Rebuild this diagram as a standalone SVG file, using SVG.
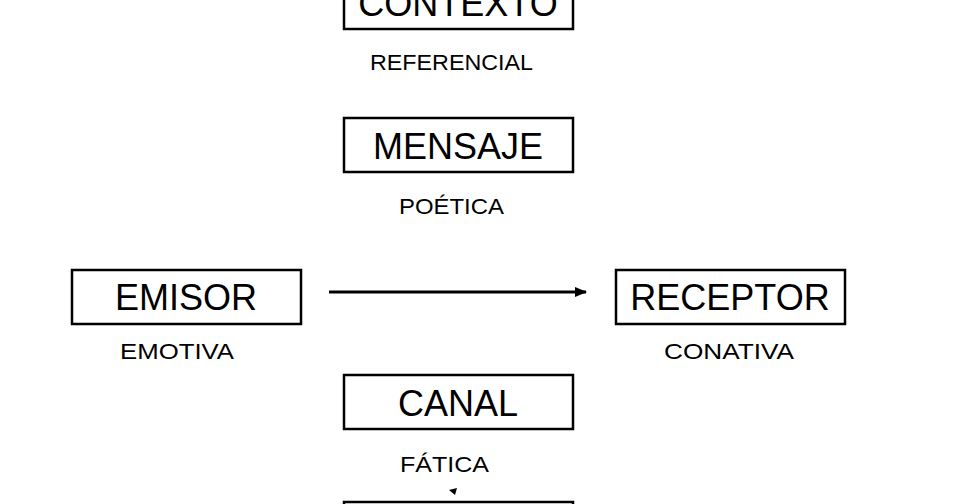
<svg xmlns="http://www.w3.org/2000/svg" width="960" height="504" viewBox="0 0 960 504">
<style>
.box{fill:#fff;stroke:#000;stroke-width:2.5}
.t{font-family:"Liberation Sans",Arial,sans-serif;font-size:36px;text-anchor:middle;fill:#000}
.l{font-family:"Liberation Sans",Arial,sans-serif;font-size:22px;fill:#000}
</style>
<defs><marker id="a" markerWidth="12" markerHeight="10" refX="11" refY="5" orient="auto" markerUnits="userSpaceOnUse"><path d="M0,0L12,5L0,10z" fill="#000"/></marker></defs>
<rect width="960" height="504" fill="#fff"/>
<g id="contexto"><rect class="box" x="344" y="-30" width="229" height="59"/><text class="t" x="458" y="16">CONTEXTO</text><text class="l" x="370" y="70" textLength="163" lengthAdjust="spacingAndGlyphs">REFERENCIAL</text></g>
<g id="mensaje"><rect class="box" x="344" y="118" width="229" height="54"/><text class="t" x="458" y="159">MENSAJE</text><text class="l" x="399" y="214" textLength="105" lengthAdjust="spacingAndGlyphs">POÉTICA</text></g>
<g id="emisor"><rect class="box" x="72" y="270" width="229" height="54"/><text class="t" x="186" y="310">EMISOR</text><text class="l" x="120" y="359" textLength="114" lengthAdjust="spacingAndGlyphs">EMOTIVA</text></g>
<g id="receptor"><rect class="box" x="616" y="270" width="229" height="54"/><text class="t" x="730" y="310">RECEPTOR</text><text class="l" x="664" y="359" textLength="130" lengthAdjust="spacingAndGlyphs">CONATIVA</text></g>
<g id="canal"><rect class="box" x="344" y="375" width="229" height="54"/><text class="t" x="458" y="416">CANAL</text><text class="l" x="400" y="472" textLength="89" lengthAdjust="spacingAndGlyphs">FÁTICA</text></g>
<g id="codigo"><rect class="box" x="344" y="502" width="229" height="54"/></g>
<g id="connectors">
<line x1="329" y1="292" x2="586" y2="292" stroke="#000" stroke-width="3" marker-end="url(#a)"/>
<path d="M449,490L457,488L455,495z" fill="#000"/>
</g>
</svg>
